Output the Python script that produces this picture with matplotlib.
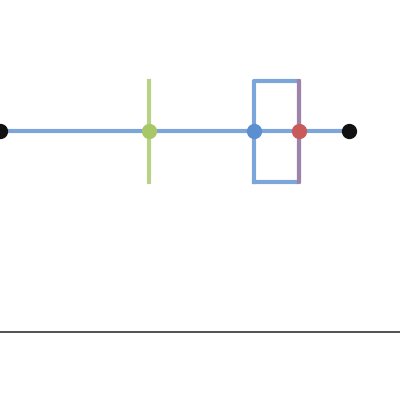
import matplotlib
matplotlib.use("Agg")
import matplotlib.pyplot as plt

whisker = [0.0, 6.98]
mean_val = [2.98]
box = [5.08, 5.98]

fig = plt.figure(figsize=(4, 4), dpi=100)
ax = fig.add_axes([0, 0.17, 1, 0.83])
ax.set_xlim(0, 8)
ax.set_ylim(0, 1)
yc = 0.605
h = 0.152
blue = "#5b8fd0"
ax.plot(whisker, [yc, yc], color=blue, lw=3, alpha=0.8, zorder=1)
ax.plot([box[0], box[1], box[1], box[0], box[0]], [yc-h, yc-h, yc+h, yc+h, yc-h], color=blue, lw=3, alpha=0.8, zorder=2)
ax.plot([box[1], box[1]], [yc-h, yc+h], color="#c0607a", lw=3, alpha=0.5, zorder=3)
ax.plot([mean_val[0]]*2, [yc-h, yc+h], color="#a8c868", lw=3, alpha=0.8, zorder=3)
ax.scatter(whisker, [yc, yc], s=100, color="#111111", zorder=5, clip_on=False)
ax.scatter(mean_val, [yc], s=100, color="#a8c868", zorder=5)
ax.scatter([box[0]], [yc], s=100, color=blue, zorder=5)
ax.scatter([box[1]], [yc], s=100, color="#c85a5a", zorder=5)
for s in ["top", "right", "left"]:
    ax.spines[s].set_visible(False)
ax.spines["bottom"].set_color("#333333")
ax.spines["bottom"].set_linewidth(1.2)
ax.set_xticks([]); ax.set_yticks([])
fig.savefig("out.png", dpi=100)
